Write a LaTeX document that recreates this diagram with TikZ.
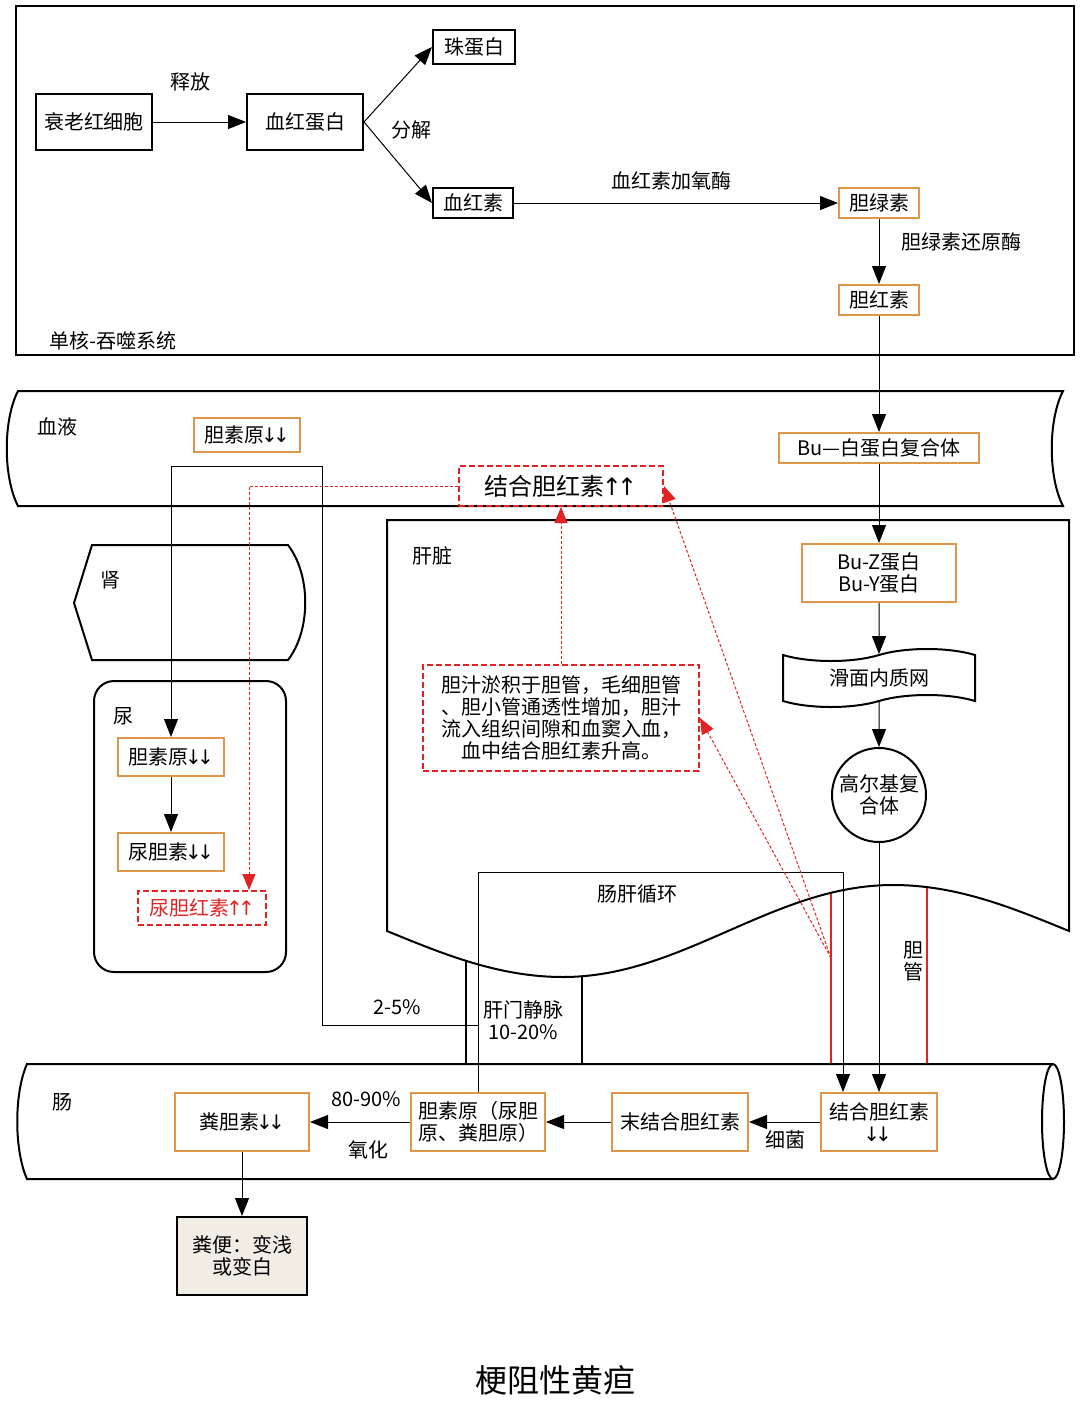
\documentclass[tikz,border=0pt]{standalone}
\usepackage{fontspec}
\setmainfont{Noto Sans CJK SC}
\newfontfamily\arrfont{DejaVu Sans}
\usetikzlibrary{arrows.meta,shapes.symbols,calc}

\definecolor{boxorange}{RGB}{224,150,72}
\definecolor{alarm}{RGB}{225,35,35}
\definecolor{stool}{RGB}{241,237,228}

\newcommand\dnarr[1][10]{{\arrfont\fontsize{#1}{#1}\selectfont\kern-1.5pt↓\kern-2.5pt↓}}
\newcommand\uparr[1][10]{{\arrfont\fontsize{#1}{#1}\selectfont\kern-1.5pt↑\kern-2.5pt↑}}

\begin{document}
\begin{tikzpicture}[x=0.5pt,y=-0.5pt,
  every node/.style={font=\fontsize{10}{11}\selectfont},
  wall/.style={line width=1pt},
  box/.style={rectangle,draw,line width=1pt,inner sep=1pt,align=center},
  obox/.style={rectangle,draw=boxorange,line width=1pt,inner sep=1pt,align=center},
  rbox/.style={rectangle,draw=alarm,line width=1pt,dash pattern=on 3pt off 1.5pt,inner sep=1pt,align=center},
  lbl/.style={inner sep=0pt,align=center},
  flow/.style={line width=0.5pt,-{Triangle[length=9pt,width=7pt]}},
  rflow/.style={draw=alarm,line width=0.5pt,dash pattern=on 1.5pt off 1pt,-{Triangle[length=8pt,width=6.5pt]}}]
\useasboundingbox (0,0) rectangle (1080,1414);

% mononuclear phagocyte system
\draw[wall] (16,6) rectangle (1074,355);
\node[box,minimum width=58pt,minimum height=28pt] (rbc) at (94,122) {衰老红细胞};
\node[box,minimum width=58pt,minimum height=28pt] (hb) at (305,122) {血红蛋白};
\node[box,minimum width=41pt,minimum height=17pt] (globin) at (474,47) {珠蛋白};
\node[box,minimum width=40pt,minimum height=15pt] (heme) at (473,203) {血红素};
\node[obox,minimum width=40pt,minimum height=15pt] (bv) at (879,203) {胆绿素};
\node[obox,minimum width=40pt,minimum height=15pt] (br) at (879,300) {胆红素};
\node[lbl] (l-release) at (190,82) {释放};
\node[lbl] (l-split) at (411,130) {分解};
\node[lbl] (l-ho) at (671,181) {血红素加氧酶};
\node[lbl] (l-bvr) at (961,242) {胆绿素还原酶};
\node[lbl] (l-mps) at (113,341) {单核-吞噬系统};

% blood
\draw[wall] (18,391) -- (1063,391) .. controls (1048,420) and (1048,477) .. (1063,506)
  -- (18,506) .. controls (3,477) and (3,420) .. (18,391) -- cycle;
\node[lbl] (l-blood) at (57,427) {血液};
\node[obox,minimum width=53pt,minimum height=17pt] (bgen) at (247,435) {胆素原\dnarr};
\node[obox,minimum width=100pt,minimum height=15pt] (alb) at (879,448) {Bu—白蛋白复合体};
\node[rbox,minimum width=102pt,minimum height=20pt,font=\fontsize{12}{14}\selectfont] (cbr) at (561,486) {结合胆红素\uparr[12]};

% liver
\draw[wall] (466,930) -- (466,1064) (582,930) -- (582,1064);
\draw[alarm,line width=1pt] (831,880) -- (831,1064) (927,880) -- (927,1064);
\draw[wall,fill=white] (387,931) -- (387,520) -- (1069,520) -- (1069,931)
  sin (893,885) cos (728,931) sin (563,977) cos (387,931) -- cycle;
\node[lbl] (l-liver) at (432,556) {肝脏};
\node[obox,minimum width=77pt,minimum height=29pt] (zy) at (879,573) {Bu-Z蛋白\\Bu-Y蛋白};
\node[draw,wall,shape=tape,minimum width=96pt,minimum height=29pt,tape bend height=6pt] (ser) at (879,678) {滑面内质网};
\node[draw,wall,circle,minimum size=47pt,inner sep=0pt,align=center] (golgi) at (879,795) {高尔基复\\合体};
\node[rbox,minimum width=138pt,minimum height=53pt] (stasis) at (561,718) {胆汁淤积于胆管，毛细胆管\\、胆小管通透性增加，胆汁\\流入组织间隙和血窦入血，\\血中结合胆红素升高。};
\node[lbl] (l-ehc) at (637,894) {肠肝循环};
\node[lbl] (l-duct) at (913,961) {胆\\管};
\node[lbl] (l-25) at (397,1007) {2-5\%};
\node[lbl] (l-portal) at (523,1020) {肝门静脉\\10-20\%};

% kidney and urine
\draw[wall] (74,603) -- (92,545) -- (288,545) .. controls (311,575) and (311,630) .. (288,660) -- (92,660) -- cycle;
\node[lbl] (l-kidney) at (110,580) {肾};
\draw[wall,rounded corners=10pt] (94,681) rectangle (286,972);
\node[lbl] (l-urine) at (123,716) {尿};
\node[obox,minimum width=53pt,minimum height=19pt] (ubgen) at (171,757) {胆素原\dnarr};
\node[obox,minimum width=53pt,minimum height=19pt] (ubil) at (171,852) {尿胆素\dnarr};
\node[rbox,text=alarm,minimum width=64pt,minimum height=17pt] (ubr) at (202,908) {尿胆红素\uparr};

% intestine
\draw[wall] (1053,1064) -- (27,1064) .. controls (14,1093) and (14,1150) .. (27,1179) -- (1053,1179);
\draw[wall] (1053,1121.5) ellipse [x radius=11,y radius=57.5];
\node[lbl] (l-gut) at (62,1102) {肠};
\node[obox,minimum width=67pt,minimum height=29pt] (sterc) at (242,1122) {粪胆素\dnarr};
\node[obox,minimum width=67pt,minimum height=29pt,align=left] (ugen) at (478,1122) {胆素原（尿胆\\原、粪胆原）};
\node[obox,minimum width=68pt,minimum height=29pt] (unc) at (680,1122) {末结合胆红素};
\node[obox,minimum width=58pt,minimum height=29pt] (cbr2) at (879,1122) {结合胆红素\\\dnarr};
\node[box,fill=stool,minimum width=65pt,minimum height=39pt] (feces) at (242,1256) {粪便：变浅\\或变白};
\node[lbl] (l-8090) at (366,1099) {80-90\%};
\node[lbl] (l-oxid) at (368,1150) {氧化};
\node[lbl] (l-bact) at (785,1140) {细菌};
\node[lbl,font=\fontsize{16}{18}\selectfont] (title) at (555,1380) {梗阻性黄疸};

\coordinate (ehc) at (843,872);
\coordinate (split) at (478,1025);
\coordinate (bend) at (322,466);
\coordinate (leak) at (831,958);

\draw[flow] (rbc) -- (hb);
\draw[flow] (hb.east) -- (globin.west);
\draw[flow] (hb.east) -- (heme.west);
\draw[flow] (heme) -- (bv);
\draw[flow] (bv) -- (br);
\draw[flow] (br) -- (alb);
\draw[flow] (alb) -- (zy);
\draw[flow] (zy) -- (ser);
\draw[flow] (ser) -- (golgi);
\draw[flow] (golgi) -- (cbr2);
\draw[flow] (cbr2) -- (unc);
\draw[flow] (unc) -- (ugen);
\draw[flow] (ugen) -- (sterc);
\draw[flow] (sterc) -- (feces);
\draw[flow] (ubgen) -- (ubil);
\draw[flow] (ugen.north) |- (ehc) -- (ehc |- cbr2.north);
\draw[flow] (split) -| (bend) -| (ubgen.north);

\draw[rflow] (cbr.west) -| ($(ubr.north east)+(-18,0)$);
\draw[rflow] (stasis) -- (cbr);
\draw[rflow] (leak) -- (cbr.east);
\draw[rflow] (leak) -- (stasis.east);
\end{tikzpicture}
\end{document}
